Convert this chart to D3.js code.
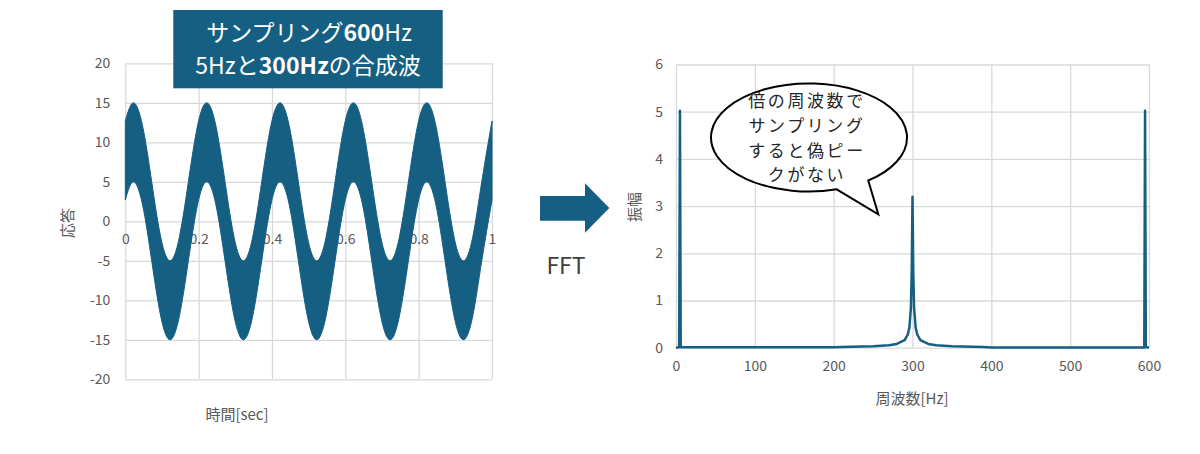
<!DOCTYPE html>
<html>
<head>
<meta charset="utf-8">
<script src="https://cdn.jsdelivr.net/npm/d3@7"></script>
<style>
  body { margin: 0; background: #fff; }
  svg text { font-family: "Noto Sans CJK JP", "Noto Sans", sans-serif; }
</style>
</head>
<body>
<div id="chart"></div>
<script>
var timeKnots = [0, 0.022, 0.047, 0.072, 0.097, 0.122, 0.147, 0.172, 0.197,
    0.222, 0.247, 0.272, 0.297, 0.322, 0.347, 0.372, 0.397,
    0.422, 0.447, 0.472, 0.497, 0.522, 0.547, 0.572, 0.597,
    0.622, 0.647, 0.672, 0.697, 0.722, 0.747, 0.772, 0.797,
    0.822, 0.847, 0.872, 0.897, 0.922, 0.947, 0.972, 1];
var upperEnv = [12.7, 15, 12.1, 5, -2.1, -5, -2.1, 5, 12.1,
    15, 12.1, 5, -2.1, -5, -2.1, 5, 12.1,
    15, 12.1, 5, -2.1, -5, -2.1, 5, 12.1,
    15, 12.1, 5, -2.1, -5, -2.1, 5, 12.1,
    15, 12.1, 5, -2.1, -5, -2.1, 5, 12.7];
var lowerEnv = [2.7, 5, 2.1, -5, -12.1, -15, -12.1, -5, 2.1,
    5, 2.1, -5, -12.1, -15, -12.1, -5, 2.1,
    5, 2.1, -5, -12.1, -15, -12.1, -5, 2.1,
    5, 2.1, -5, -12.1, -15, -12.1, -5, 2.1,
    5, 2.1, -5, -12.1, -15, -12.1, -5, 2.7];
var timeTicks = [0, 0.2, 0.4, 0.6, 0.8, 1];
var respTicks = [-20, -15, -10, -5, 0, 5, 10, 15, 20];

// FFT amplitude spectrum
var freqs = [0, 4, 5, 6, 200, 210, 250, 270, 280, 290, 294, 296, 298, 299, 300,
    301, 302, 304, 306, 310, 320, 330, 350, 390, 400, 594, 595, 596, 600];
var amps = [0, 0.01, 5.02, 0.01, 0.01, 0.015, 0.03, 0.05, 0.08, 0.16, 0.28, 0.42, 0.85, 1.6, 3.2,
    1.6, 0.85, 0.42, 0.28, 0.16, 0.08, 0.05, 0.03, 0.015, 0.005, 0.005, 5.02, 0.01, 0.005];
var freqTicks = [0, 100, 200, 300, 400, 500, 600];
var ampTicks = [0, 1, 2, 3, 4, 5, 6];

var teal = "#156082";
var gridColor = "#d9d9d9";
var labelColor = "#595959";
var plain = function(d) { return String(d); }; // keeps "-5" with a hyphen like Excel

var svg = d3.select("#chart").append("svg")
    .attr("width", 1200)
    .attr("height", 454);

// ---------- left: time signal ----------
var x1 = d3.scaleLinear().domain([0, 1]).range([125.3, 492]);
var y1 = d3.scaleLinear().domain([-20, 20]).range([379.3, 63.3]);

var left = svg.append("g");

// gridlines
left.append("g")
    .attr("transform", "translate(0," + y1(-20) + ")")
    .call(d3.axisBottom(x1).tickValues(timeTicks).tickSize(-(y1(-20) - y1(20))).tickFormat(""))
    .call(function(g) { g.select(".domain").remove(); })
    .selectAll("line").attr("stroke", gridColor).attr("stroke-width", 1.3);
left.append("g")
    .attr("transform", "translate(" + x1(0) + ",0)")
    .call(d3.axisLeft(y1).tickValues(respTicks).tickSize(-(x1(1) - x1(0))).tickFormat(""))
    .call(function(g) { g.select(".domain").remove(); })
    .selectAll("line").attr("stroke", gridColor).attr("stroke-width", 1.3);

// tick labels
left.append("g")
    .attr("transform", "translate(" + x1(0) + ",0)")
    .call(d3.axisLeft(y1).tickValues(respTicks).tickSize(0).tickPadding(15).tickFormat(plain))
    .call(function(g) { g.select(".domain").remove(); })
    .selectAll("text").attr("font-size", 14).attr("fill", labelColor)
    .style("font-family", "'Noto Sans CJK JP', sans-serif");
left.append("g")
    .attr("transform", "translate(0," + y1(0) + ")")
    .call(d3.axisBottom(x1).tickValues(timeTicks).tickSize(0).tickPadding(13).tickFormat(plain))
    .call(function(g) { g.select(".domain").remove(); })
    .selectAll("text").attr("font-size", 14).attr("fill", labelColor)
    .style("font-family", "'Noto Sans CJK JP', sans-serif");

// signal band
var band = d3.area()
    .x(function(d, i) { return x1(timeKnots[i]); })
    .y0(function(d, i) { return y1(lowerEnv[i]); })
    .y1(function(d, i) { return y1(upperEnv[i]); })
    .curve(d3.curveNatural);
left.append("path")
    .datum(timeKnots)
    .attr("d", band)
    .attr("fill", teal)
    .attr("stroke", teal)
    .attr("stroke-width", 1);

// axis titles
left.append("text")
    .attr("transform", "translate(66,223) rotate(-90)")
    .attr("text-anchor", "middle")
    .attr("dominant-baseline", "central")
    .attr("font-size", 15)
    .attr("fill", labelColor)
    .text("応答");
left.append("text")
    .attr("x", 237).attr("y", 413)
    .attr("text-anchor", "middle")
    .attr("dominant-baseline", "central")
    .attr("font-size", 15)
    .attr("fill", labelColor)
    .text("時間[sec]");

// title box
left.append("rect")
    .attr("x", 173.3).attr("y", 10)
    .attr("width", 269.4).attr("height", 78.3)
    .attr("fill", teal);
var t1 = left.append("text")
    .attr("x", 309).attr("y", 40.5)
    .attr("text-anchor", "middle")
    .attr("font-size", 23)
    .attr("fill", "#fff");
t1.append("tspan").text("サンプリング");
t1.append("tspan").attr("font-weight", "bold").text("600");
t1.append("tspan").text("Hz");
var t2 = left.append("text")
    .attr("x", 308).attr("y", 74)
    .attr("text-anchor", "middle")
    .attr("font-size", 23)
    .attr("fill", "#fff");
t2.append("tspan").text("5Hzと");
t2.append("tspan").attr("font-weight", "bold").text("300Hz");
t2.append("tspan").text("の合成波");

// ---------- arrow + FFT ----------
svg.append("path")
    .attr("d", "M540,196 L585,196 L585,183.3 L609.3,208 L585,232.7 L585,220.7 L540,220.7 Z")
    .attr("fill", teal);
svg.append("text")
    .attr("x", 566).attr("y", 264)
    .attr("text-anchor", "middle")
    .attr("dominant-baseline", "central")
    .attr("font-size", 23)
    .attr("fill", "#404040")
    .text("FFT");

// ---------- right: spectrum ----------
var x2 = d3.scaleLinear().domain([0, 600]).range([676, 1149]);
var y2 = d3.scaleLinear().domain([0, 6]).range([347.7, 64.5]);

var right = svg.append("g");

right.append("g")
    .attr("transform", "translate(0," + y2(0) + ")")
    .call(d3.axisBottom(x2).tickValues(freqTicks).tickSize(-(y2(0) - y2(6))).tickFormat(""))
    .call(function(g) { g.select(".domain").remove(); })
    .selectAll("line").attr("stroke", gridColor).attr("stroke-width", 1.3);
right.append("g")
    .attr("transform", "translate(" + x2(0) + ",0)")
    .call(d3.axisLeft(y2).tickValues(ampTicks).tickSize(-(x2(600) - x2(0))).tickFormat(""))
    .call(function(g) { g.select(".domain").remove(); })
    .selectAll("line").attr("stroke", gridColor).attr("stroke-width", 1.3);

right.append("g")
    .attr("transform", "translate(" + x2(0) + ",0)")
    .call(d3.axisLeft(y2).tickValues(ampTicks).tickSize(0).tickPadding(13).tickFormat(plain))
    .call(function(g) { g.select(".domain").remove(); })
    .selectAll("text").attr("font-size", 14).attr("fill", labelColor)
    .style("font-family", "'Noto Sans CJK JP', sans-serif");
right.append("g")
    .attr("transform", "translate(0," + y2(0) + ")")
    .call(d3.axisBottom(x2).tickValues(freqTicks).tickSize(0).tickPadding(13).tickFormat(plain))
    .call(function(g) { g.select(".domain").remove(); })
    .selectAll("text").attr("font-size", 14).attr("fill", labelColor)
    .style("font-family", "'Noto Sans CJK JP', sans-serif");

var spec = d3.line()
    .x(function(d, i) { return x2(freqs[i]); })
    .y(function(d) { return y2(d); });
right.append("path")
    .datum(amps)
    .attr("d", spec)
    .attr("fill", "none")
    .attr("stroke", teal)
    .attr("stroke-width", 2.5)
    .attr("stroke-linejoin", "round");

right.append("text")
    .attr("transform", "translate(633,207) rotate(-90)")
    .attr("text-anchor", "middle")
    .attr("dominant-baseline", "central")
    .attr("font-size", 15)
    .attr("fill", labelColor)
    .text("振幅");
right.append("text")
    .attr("x", 912).attr("y", 397)
    .attr("text-anchor", "middle")
    .attr("dominant-baseline", "central")
    .attr("font-size", 15)
    .attr("fill", labelColor)
    .text("周波数[Hz]");

// speech bubble
var bcx = 809, bcy = 137.5, brx = 98, bry = 54;
var a1 = 73.6 * Math.PI / 180, a2 = 52.8 * Math.PI / 180;
var pA = [bcx + brx * Math.cos(a1), bcy + bry * Math.sin(a1)];
var pB = [bcx + brx * Math.cos(a2), bcy + bry * Math.sin(a2)];
var tip = [878.3, 214.3];
right.append("path")
    .attr("d", "M" + pA + " A" + brx + "," + bry + " 0 1 1 " + pB + " L" + tip + " Z")
    .attr("fill", "#fff")
    .attr("stroke", "#000")
    .attr("stroke-width", 2)
    .attr("stroke-linejoin", "miter");

// bubble lines: slightly smaller glyphs with letter spacing so the lines don't collide
var bubbleLines = ["倍の周波数で", "サンプリング", "すると偽ピー", "クがない"];
right.selectAll("text.bubble")
    .data(bubbleLines)
    .enter()
    .append("text")
    .attr("class", "bubble")
    .attr("x", 807)
    .attr("y", function(d, i) { return 99.5 + i * 24.8; })
    .attr("text-anchor", "middle")
    .attr("dominant-baseline", "central")
    .attr("font-size", 17)
    .attr("letter-spacing", 2.6)
    .attr("fill", "#262626")
    .text(function(d) { return d; });
</script>
</body>
</html>
